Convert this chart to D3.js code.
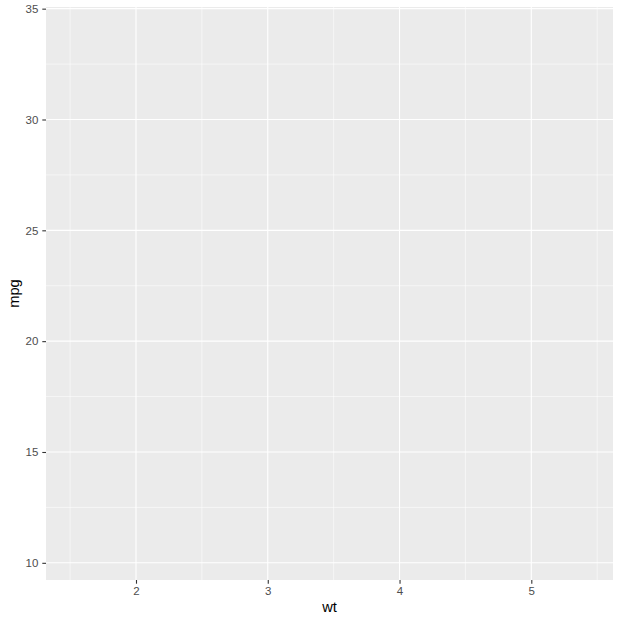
<!DOCTYPE html>
<html><head><meta charset="utf-8">
<script src="https://cdn.jsdelivr.net/npm/d3@7"></script>
<style>body{margin:0;background:#fff}svg{display:block}</style>
</head><body>
<script>
const xDomain = [1.317, 5.620];
const yDomain = [9.225, 35.075];
const xTicks = [2, 3, 4, 5];
const xMinor = [1.5, 2.5, 3.5, 4.5, 5.5];
const yTicks = [10, 15, 20, 25, 30, 35];
const yMinor = [12.5, 17.5, 22.5, 27.5, 32.5];
const xLabel = "wt", yLabel = "mpg";

const W = 620, H = 622;
const m = {l: 46, r: 7, t: 7, b: 42};
const svg = d3.select("body").append("svg").attr("width", W).attr("height", H);
const x = d3.scaleLinear().domain(xDomain).range([m.l, W - m.r]);
const y = d3.scaleLinear().domain(yDomain).range([H - m.b, m.t]);

svg.append("rect").attr("x", m.l).attr("y", m.t)
  .attr("width", W - m.r - m.l).attr("height", H - m.b - m.t).attr("fill", "#EBEBEB");

const g = svg.append("g");
g.selectAll(".xm").data(xMinor).join("line")
  .attr("x1", d => x(d)).attr("x2", d => x(d)).attr("y1", m.t).attr("y2", H - m.b)
  .attr("stroke", "#fff").attr("stroke-width", 0.55);
g.selectAll(".ym").data(yMinor).join("line")
  .attr("y1", d => y(d)).attr("y2", d => y(d)).attr("x1", m.l).attr("x2", W - m.r)
  .attr("stroke", "#fff").attr("stroke-width", 0.55);
g.selectAll(".xM").data(xTicks).join("line")
  .attr("x1", d => x(d)).attr("x2", d => x(d)).attr("y1", m.t).attr("y2", H - m.b)
  .attr("stroke", "#fff").attr("stroke-width", 1.1);
g.selectAll(".yM").data(yTicks).join("line")
  .attr("y1", d => y(d)).attr("y2", d => y(d)).attr("x1", m.l).attr("x2", W - m.r)
  .attr("stroke", "#fff").attr("stroke-width", 1.1);

const font = "'Liberation Sans', Arial, sans-serif";
const xa = svg.append("g").attr("transform", `translate(0,${H - m.b})`)
  .call(d3.axisBottom(x).tickValues(xTicks).tickSize(3.7).tickPadding(3).tickFormat(d3.format("d")));
const ya = svg.append("g").attr("transform", `translate(${m.l},0)`)
  .call(d3.axisLeft(y).tickValues(yTicks).tickSize(3.7).tickPadding(4).tickFormat(d3.format("d")));
[xa, ya].forEach(a => {
  a.select(".domain").remove();
  a.selectAll("line").attr("stroke", "#333333").attr("stroke-width", 1.1);
  a.selectAll("text").attr("fill", "#4D4D4D").attr("font-size", "11.5px").attr("font-family", font);
});

svg.append("text").attr("x", (m.l + W - m.r) / 2).attr("y", 612)
  .attr("text-anchor", "middle").attr("font-family", font).attr("font-size", "14.67px")
  .attr("fill", "#000").text(xLabel);
svg.append("text").attr("transform", `translate(18.5,${(m.t + H - m.b) / 2}) rotate(-90)`)
  .attr("text-anchor", "middle").attr("font-family", font).attr("font-size", "14.67px")
  .attr("fill", "#000").text(yLabel);
</script>
</body></html>
